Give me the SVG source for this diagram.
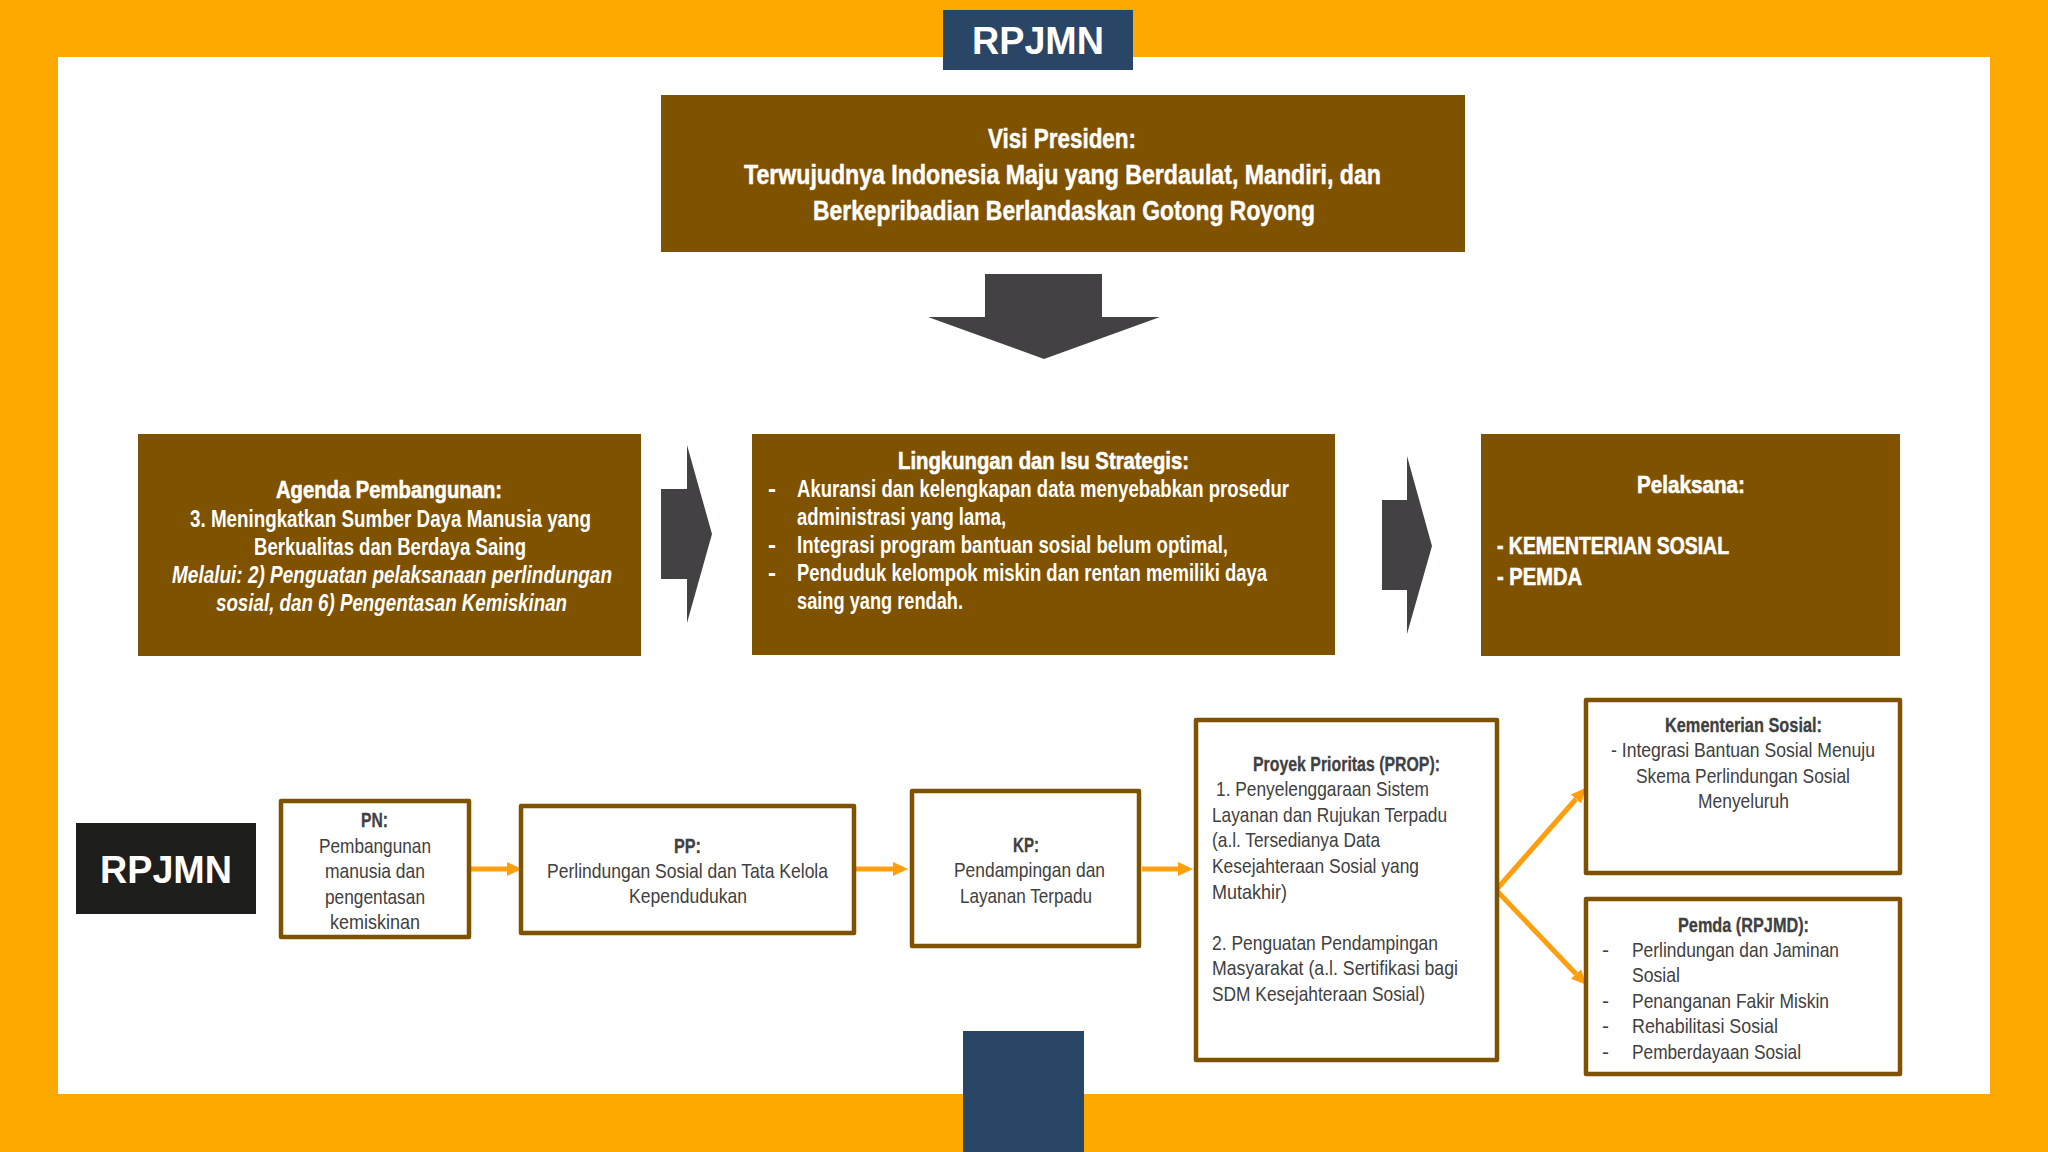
<svg xmlns="http://www.w3.org/2000/svg" width="2048" height="1152" viewBox="0 0 2048 1152">
<style>
text{font-family:"Liberation Sans Narrow","Liberation Sans",Arial,sans-serif}
.w{fill:#fff;font-weight:700;font-size:24px}
.h{fill:#fff;font-weight:700;font-size:28px;stroke:#fff;stroke-width:.5}
.x{stroke:#fff;stroke-width:.6}
.i{font-style:italic}
.big{fill:#fff;font-weight:700;font-size:38px;font-family:"Liberation Sans",Arial,sans-serif}
.d{fill:#404040;font-size:21px}
.b{font-weight:700;stroke:#404040;stroke-width:.3}
.brown{fill:#7f5200}
.blue{fill:#2a4666}
.arrow{fill:#434144}
.box{fill:#fff;stroke:#7f5200;stroke-width:4.5;stroke-linejoin:round}
.conn{stroke:#ff9f0f;stroke-width:5;fill:none;marker-end:url(#ah)}
</style>
<defs><marker id="ah" markerUnits="userSpaceOnUse" markerWidth="16" markerHeight="16" refX="0" refY="8" orient="auto"><path d="M0,1 L15,8 L0,15 Z" fill="#ff9f0f"/></marker></defs>
<rect width="2048" height="1152" fill="#ffa800"/>
<rect x="58" y="57" width="1932" height="1037" fill="#fff"/>
<rect x="963" y="1031" width="121" height="121" class="blue"/>
<g id="title"><rect x="943" y="10" width="190" height="60" class="blue"/><text class="big" x="972" y="54" textLength="132" lengthAdjust="spacingAndGlyphs">RPJMN</text></g>
<g id="visi"><rect x="661" y="95" width="804" height="157" class="brown"/>
<text class="h" x="988" y="148" textLength="148" lengthAdjust="spacingAndGlyphs">Visi Presiden:</text>
<text class="h" x="744" y="184" textLength="637" lengthAdjust="spacingAndGlyphs">Terwujudnya Indonesia Maju yang Berdaulat, Mandiri, dan</text>
<text class="h" x="813" y="220" textLength="502" lengthAdjust="spacingAndGlyphs">Berkepribadian Berlandaskan Gotong Royong</text></g>
<polygon id="arrow-down" class="arrow" points="985,274 1102,274 1102,317 1160,317 1044,359 928,317 985,317"/>
<g id="agenda"><rect x="138" y="434" width="503" height="222" class="brown"/>
<text class="w x" x="276" y="498" textLength="226" lengthAdjust="spacingAndGlyphs">Agenda Pembangunan:</text>
<text class="w" x="190" y="527" textLength="401" lengthAdjust="spacingAndGlyphs">3. Meningkatkan Sumber Daya Manusia yang</text>
<text class="w" x="254" y="555" textLength="272" lengthAdjust="spacingAndGlyphs">Berkualitas dan Berdaya Saing</text>
<text class="w i" x="172" y="583" textLength="440" lengthAdjust="spacingAndGlyphs">Melalui: 2) Penguatan pelaksanaan perlindungan</text>
<text class="w i" x="216" y="611" textLength="351" lengthAdjust="spacingAndGlyphs">sosial, dan 6) Pengentasan Kemiskinan</text></g>
<polygon id="arrow-right-1" class="arrow" points="661,489 687,489 687,445 712,534 687,623 687,579 661,579"/>
<g id="isu"><rect x="752" y="434" width="583" height="221" class="brown"/>
<text class="w x" x="898" y="469" textLength="291" lengthAdjust="spacingAndGlyphs">Lingkungan dan Isu Strategis:</text>
<text class="w" x="768" y="497">-</text><text class="w" x="797" y="497" textLength="492" lengthAdjust="spacingAndGlyphs">Akuransi dan kelengkapan data menyebabkan prosedur</text>
<text class="w" x="797" y="525" textLength="209" lengthAdjust="spacingAndGlyphs">administrasi yang lama,</text>
<text class="w" x="768" y="553">-</text><text class="w" x="797" y="553" textLength="431" lengthAdjust="spacingAndGlyphs">Integrasi program bantuan sosial belum optimal,</text>
<text class="w" x="768" y="581">-</text><text class="w" x="797" y="581" textLength="470" lengthAdjust="spacingAndGlyphs">Penduduk kelompok miskin dan rentan memiliki daya</text>
<text class="w" x="797" y="609" textLength="166" lengthAdjust="spacingAndGlyphs">saing yang rendah.</text></g>
<polygon id="arrow-right-2" class="arrow" points="1382,500 1407,500 1407,456 1432,546 1407,634 1407,590 1382,590"/>
<g id="pelaksana"><rect x="1481" y="434" width="419" height="222" class="brown"/>
<text class="w x" x="1637" y="493" textLength="108" lengthAdjust="spacingAndGlyphs">Pelaksana:</text>
<text class="w x" x="1497" y="554" textLength="232" lengthAdjust="spacingAndGlyphs">- KEMENTERIAN SOSIAL</text>
<text class="w x" x="1497" y="585" textLength="85" lengthAdjust="spacingAndGlyphs">- PEMDA</text></g>
<g id="rpjmn-label"><rect x="76" y="823" width="180" height="91" fill="#1e1e1c"/><text class="big" x="100" y="883" textLength="132" lengthAdjust="spacingAndGlyphs">RPJMN</text></g>
<g id="connectors">
<line class="conn" x1="471" y1="869" x2="507" y2="869"/>
<line class="conn" x1="856" y1="869" x2="893" y2="869"/>
<line class="conn" x1="1142" y1="869" x2="1178" y2="869"/>
<line class="conn" x1="1496" y1="890" x2="1576" y2="799"/>
<line class="conn" x1="1496" y1="890" x2="1576" y2="974"/>
</g>
<g id="pn"><rect x="281" y="801" width="188" height="136" class="box"/>
<text class="d b" x="361" y="827" textLength="27" lengthAdjust="spacingAndGlyphs">PN:</text>
<text class="d" x="319" y="853" textLength="112" lengthAdjust="spacingAndGlyphs">Pembangunan</text>
<text class="d" x="325" y="878" textLength="100" lengthAdjust="spacingAndGlyphs">manusia dan</text>
<text class="d" x="325" y="904" textLength="100" lengthAdjust="spacingAndGlyphs">pengentasan</text>
<text class="d" x="330" y="929" textLength="90" lengthAdjust="spacingAndGlyphs">kemiskinan</text></g>
<g id="pp"><rect x="521" y="806" width="333" height="127" class="box"/>
<text class="d b" x="674" y="853" textLength="27" lengthAdjust="spacingAndGlyphs">PP:</text>
<text class="d" x="547" y="878" textLength="281" lengthAdjust="spacingAndGlyphs">Perlindungan Sosial dan Tata Kelola</text>
<text class="d" x="629" y="903" textLength="118" lengthAdjust="spacingAndGlyphs">Kependudukan</text></g>
<g id="kp"><rect x="912" y="791" width="227" height="155" class="box"/>
<text class="d b" x="1013" y="852" textLength="26" lengthAdjust="spacingAndGlyphs">KP:</text>
<text class="d" x="954" y="877" textLength="151" lengthAdjust="spacingAndGlyphs">Pendampingan dan</text>
<text class="d" x="960" y="903" textLength="132" lengthAdjust="spacingAndGlyphs">Layanan Terpadu</text></g>
<g id="prop"><rect x="1196" y="720" width="301" height="340" class="box"/>
<text class="d b" x="1253" y="771" textLength="187" lengthAdjust="spacingAndGlyphs">Proyek Prioritas (PROP):</text>
<text class="d" x="1216" y="796" textLength="213" lengthAdjust="spacingAndGlyphs">1. Penyelenggaraan Sistem</text>
<text class="d" x="1212" y="822" textLength="235" lengthAdjust="spacingAndGlyphs">Layanan dan Rujukan Terpadu</text>
<text class="d" x="1212" y="847" textLength="168" lengthAdjust="spacingAndGlyphs">(a.l. Tersedianya Data</text>
<text class="d" x="1212" y="873" textLength="207" lengthAdjust="spacingAndGlyphs">Kesejahteraan Sosial yang</text>
<text class="d" x="1212" y="899" textLength="75" lengthAdjust="spacingAndGlyphs">Mutakhir)</text>
<text class="d" x="1212" y="950" textLength="226" lengthAdjust="spacingAndGlyphs">2. Penguatan Pendampingan</text>
<text class="d" x="1212" y="975" textLength="246" lengthAdjust="spacingAndGlyphs">Masyarakat (a.l. Sertifikasi bagi</text>
<text class="d" x="1212" y="1001" textLength="213" lengthAdjust="spacingAndGlyphs">SDM Kesejahteraan Sosial)</text></g>
<g id="kemensos"><rect x="1586" y="700" width="314" height="173" class="box"/>
<text class="d b" x="1665" y="732" textLength="157" lengthAdjust="spacingAndGlyphs">Kementerian Sosial:</text>
<text class="d" x="1611" y="757" textLength="264" lengthAdjust="spacingAndGlyphs">- Integrasi Bantuan Sosial Menuju</text>
<text class="d" x="1636" y="783" textLength="214" lengthAdjust="spacingAndGlyphs">Skema Perlindungan Sosial</text>
<text class="d" x="1698" y="808" textLength="91" lengthAdjust="spacingAndGlyphs">Menyeluruh</text></g>
<g id="pemda"><rect x="1586" y="899" width="314" height="175" class="box"/>
<text class="d b" x="1678" y="932" textLength="131" lengthAdjust="spacingAndGlyphs">Pemda (RPJMD):</text>
<text class="d" x="1602" y="957">-</text><text class="d" x="1632" y="957" textLength="207" lengthAdjust="spacingAndGlyphs">Perlindungan dan Jaminan</text>
<text class="d" x="1632" y="982" textLength="48" lengthAdjust="spacingAndGlyphs">Sosial</text>
<text class="d" x="1602" y="1008">-</text><text class="d" x="1632" y="1008" textLength="197" lengthAdjust="spacingAndGlyphs">Penanganan Fakir Miskin</text>
<text class="d" x="1602" y="1033">-</text><text class="d" x="1632" y="1033" textLength="146" lengthAdjust="spacingAndGlyphs">Rehabilitasi Sosial</text>
<text class="d" x="1602" y="1059">-</text><text class="d" x="1632" y="1059" textLength="169" lengthAdjust="spacingAndGlyphs">Pemberdayaan Sosial</text></g>
</svg>
